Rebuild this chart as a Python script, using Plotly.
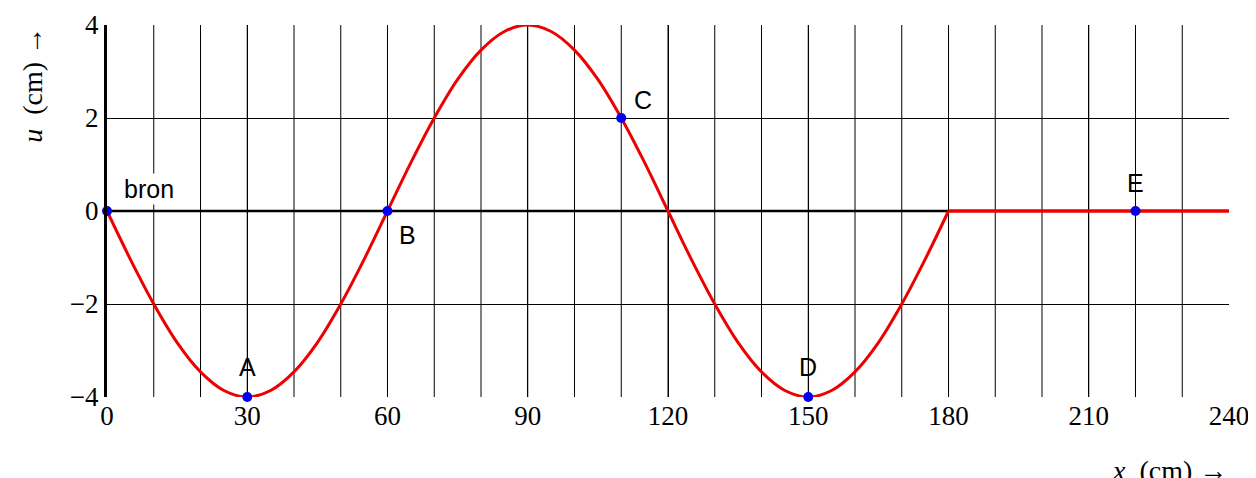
import plotly.graph_objects as go

# wave profile (x in cm, u in cm)
x_vals = [0,5,10,15,20,25,30,35,40,45,50,55,60,65,70,75,80,85,90,95,100,105,110,115,120,
          125,130,135,140,145,150,155,160,165,170,175,180]
u_vals = [0,-1.04,-2,-2.83,-3.46,-3.86,-4,-3.86,-3.46,-2.83,-2,-1.04,0,1.04,2,2.83,3.46,3.86,4,
          3.86,3.46,2.83,2,1.04,0,-1.04,-2,-2.83,-3.46,-3.86,-4,-3.86,-3.46,-2.83,-2,-1.04,0]
rest_x = [180, 240]
rest_u = [0, 0]

pt_x = [0, 30, 60, 110, 150, 220]
pt_u = [0, -4, 0, 2, -4, 0]
pt_labels = ["bron", "A", "B", "C", "D", "E"]
label_dx = [42, 0, 20, 22, 0, 0]
label_dy = [22, 30, -24, 18, 30, 28]

x_ticks = [0, 30, 60, 90, 120, 150, 180, 210, 240]
y_ticks = [-4, -2, 0, 2, 4]
y_ticktext = ["−4", "−2", "0", "2", "4"]

serif = "Liberation Serif, serif"
fig = go.Figure()
fig.add_trace(go.Scatter(x=[0, 180], y=[0, 0], mode="lines",
                         line=dict(color="black", width=2.5), hoverinfo="skip"))
fig.add_trace(go.Scatter(x=x_vals, y=u_vals, mode="lines",
                         line=dict(color="#ee0000", width=3, shape="spline", smoothing=1.0)))
fig.add_trace(go.Scatter(x=rest_x, y=rest_u, mode="lines",
                         line=dict(color="#ee0000", width=3.5), cliponaxis=False))
fig.add_trace(go.Scatter(x=pt_x, y=pt_u, mode="markers",
                         marker=dict(color="#0000ee", size=10), cliponaxis=False))
for x, u, t, dx, dy in zip(pt_x, pt_u, pt_labels, label_dx, label_dy):
    fig.add_annotation(x=x, y=u, text=t, showarrow=False, xshift=dx, yshift=dy,
                       font=dict(family="Liberation Sans, Arial", size=25, color="black"),
                       bgcolor="white" if t in ("bron", "B") else None)

fig.add_annotation(xref="paper", yref="paper", x=1.0, y=-0.15, xanchor="right", yanchor="top",
                   text="<i>x</i>  (cm) →", showarrow=False,
                   font=dict(family=serif, size=28, color="black"))
fig.add_annotation(xref="paper", yref="paper", x=-0.067, y=1.0, xanchor="center", yanchor="top",
                   text="<i>u</i>  (cm) →", textangle=-90, showarrow=False,
                   font=dict(family=serif, size=28, color="black"))

fig.update_layout(
    width=1256, height=478, margin=dict(l=99, r=35, t=17, b=89, autoexpand=False),
    plot_bgcolor="white", paper_bgcolor="white", showlegend=False,
    xaxis=dict(range=[0, 240], tickvals=x_ticks, showgrid=True, automargin=False,
               gridcolor="black", gridwidth=1, zeroline=False, showline=False, ticks="",
               tickfont=dict(family=serif, size=27, color="black")),
    yaxis=dict(range=[-4, 4], tickvals=y_ticks, ticktext=y_ticktext, showgrid=True,
               automargin=False,
               gridcolor="black", gridwidth=1, zeroline=False, showline=True,
               linecolor="black", linewidth=3, ticks="",
               tickfont=dict(family=serif, size=27, color="black")),
)
for xv in range(10, 240, 10):
    fig.add_vline(x=xv, line=dict(color="black", width=1), layer="below")

fig.write_html("out.html")
